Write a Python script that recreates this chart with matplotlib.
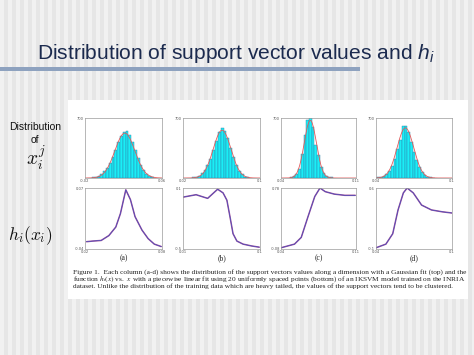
import numpy as np
import matplotlib
matplotlib.use("Agg")
import matplotlib.pyplot as plt

W, H = 474, 355

# ---------------- data ----------------
panels = ["(a)", "(b)", "(c)", "(d)"]

# histogram bin ranges (axis fraction units) and bar heights
hist_a_range = (0.09, 0.89)
hist_a = [0.01, 0.02, 0.04, 0.07, 0.11, 0.17, 0.25, 0.35, 0.47, 0.60, 0.70,
          0.76, 0.78, 0.72, 0.60, 0.47, 0.34, 0.22, 0.13, 0.07, 0.03, 0.01]
hist_b_range = (0.12, 0.86)
hist_b = [0.01, 0.02, 0.04, 0.08, 0.13, 0.21, 0.32, 0.46, 0.62, 0.76, 0.83,
          0.79, 0.66, 0.50, 0.35, 0.22, 0.12, 0.06, 0.025, 0.01]
hist_c_range = (0.12, 0.70)
hist_c = [0.01, 0.03, 0.07, 0.15, 0.40, 0.72, 0.96, 1.0, 0.85, 0.55, 0.38,
          0.18, 0.08, 0.04, 0.02, 0.01]
hist_d_range = (-0.02, 0.77)
hist_d = [0.005, 0.01, 0.02, 0.04, 0.07, 0.12, 0.20, 0.32, 0.48, 0.63, 0.87,
          0.87, 0.76, 0.60, 0.44, 0.30, 0.18, 0.10, 0.05, 0.025, 0.01, 0.005]

# h_i(x_i) curves (axis fraction units)
h_a_x = [0.02, 0.10, 0.21, 0.31, 0.40, 0.46, 0.53, 0.59, 0.65, 0.74, 0.82, 0.90, 0.99]
h_a_y = [0.12, 0.13, 0.14, 0.22, 0.36, 0.58, 0.97, 0.81, 0.53, 0.31, 0.17, 0.08, 0.04]
h_b_x = [0.00, 0.17, 0.32, 0.45, 0.52, 0.57, 0.61, 0.65, 0.70, 0.78, 0.89, 0.99]
h_b_y = [0.85, 0.89, 0.83, 0.98, 0.92, 0.80, 0.53, 0.25, 0.13, 0.08, 0.05, 0.03]
h_c_x = [0.00, 0.18, 0.27, 0.36, 0.45, 0.52, 0.59, 0.71, 0.85, 0.99]
h_c_y = [0.02, 0.08, 0.19, 0.53, 0.86, 1.00, 0.94, 0.90, 0.88, 0.88]
h_d_x = [0.00, 0.13, 0.22, 0.29, 0.36, 0.41, 0.49, 0.60, 0.73, 0.87, 1.00]
h_d_y = [0.02, 0.08, 0.25, 0.64, 0.92, 1.00, 0.92, 0.72, 0.64, 0.61, 0.59]

hists = [(hist_a_range, hist_a), (hist_b_range, hist_b),
         (hist_c_range, hist_c), (hist_d_range, hist_d)]
curves = [(h_a_x, h_a_y), (h_b_x, h_b_y), (h_c_x, h_c_y), (h_d_x, h_d_y)]

# tick labels (corner labels)
top_ylabels = ["700", "700", "700", "700"]
top_xlabels = [("-0.02", "0.06"), ("0.02", "0.1"), ("0.04", "0.11"), ("0.04", "0.1")]
bot_ylabels = [("-0.04", "0.07"), ("-0.5", "0.1"), ("-0.08", "0.78"), ("-0.1", "0.6")]
bot_xlabels = [("0.02", "0.08"), ("0.01", "0.1"), ("0.04", "0.11"), ("0.04", "0.1")]

caption = [
    "Figure 1.  Each column (a-d) shows the distribution of the support vectors values along a dimension with a Gaussian fit (top) and the",
    r"function $h_i(x)$ vs.  $x$ with a piecewise linear fit using 20 uniformly spaced points (bottom) of an IKSVM model trained on the INRIA",
    "dataset. Unlike the distribution of the training data which are heavy tailed, the values of the support vectors tend to be clustered.",
]

# ---------------- figure ----------------
plt.rcParams["mathtext.fontset"] = "custom"
plt.rcParams["mathtext.it"] = "Liberation Sans:italic"
plt.rcParams["mathtext.rm"] = "Liberation Sans"

fig = plt.figure(figsize=(W / 100, H / 100), dpi=100)

def px_axes(x0, y0, x1, y1, **kw):
    return fig.add_axes([x0 / W, 1 - y1 / H, (x1 - x0) / W, (y1 - y0) / H], **kw)

# striped slide background
bg = px_axes(0, 0, W, H)
stripes = np.tile([0, 0, 0, 0, 1, 1, 1, 1], W // 8 + 1)[:W][None, :]
bg.imshow(stripes, cmap=matplotlib.colors.ListedColormap(["#f1f1f1", "#e6e6e6"]),
          aspect="auto", extent=(0, W, H, 0), interpolation="nearest")
bg.set_xlim(0, W)
bg.set_ylim(H, 0)
bg.axis("off")
# white figure panel
bg.add_patch(plt.Rectangle((68, 100), 400, 199, facecolor="white", edgecolor="none"))
# title underline
bg.add_patch(plt.Rectangle((0, 67), 360, 4, facecolor="#8ea2bf", edgecolor="none"))

# title
fig.text(37 / W, 1 - 59 / H, r"Distribution of support vector values and $h_i$",
         fontsize=15.1, color="#1b2a4e", family="Liberation Sans",
         ha="left", va="baseline", math_fontfamily="custom")

# left labels
fig.text(35 / W, 1 - 127 / H, "Distribution", fontsize=7.5, family="Liberation Sans",
         ha="center", va="center", color="#111111")
fig.text(35 / W, 1 - 140 / H, "of", fontsize=7.5, family="Liberation Sans",
         ha="center", va="center", color="#111111")
fig.text(36 / W, 1 - 158 / H, r"$x_i^j$", fontsize=14, ha="center", va="center",
         math_fontfamily="cm", color="#111111")
fig.text(30 / W, 1 - 236 / H, r"$h_i(x_i)$", fontsize=12.5, ha="center", va="center",
         math_fontfamily="cm", color="#111111")

cols = [(85, 162), (183, 260), (281, 356), (376, 452)]
frame_col = "#9a9a9a"
tick_col = "#555555"
tfs = 2.6

def style(ax):
    for s in ax.spines.values():
        s.set_color(frame_col)
        s.set_linewidth(0.5)
    ax.set_xlim(0, 1)
    ax.set_ylim(0, 1)
    ax.tick_params(length=0, labelsize=tfs, colors=tick_col, pad=0.8)
    ax.set_facecolor("white")

for i, (x0, x1) in enumerate(cols):
    # top: histogram with gaussian fit
    ax = px_axes(x0, 118, x1, 178)
    style(ax)
    (lo, hi), vals = hists[i]
    edges = np.linspace(lo, hi, len(vals) + 1)
    centers = (edges[:-1] + edges[1:]) / 2
    ax.bar(centers, vals, width=edges[1] - edges[0], color="#1aeef6",
           edgecolor="#2f7fa8", linewidth=0.3)
    v = np.asarray(vals)
    mu = np.sum(centers * v) / v.sum()
    sd = np.sqrt(np.sum(v * (centers - mu) ** 2) / v.sum())
    xx = np.linspace(0, 1, 300)
    ax.plot(xx, v.max() * 0.96 * np.exp(-0.5 * ((xx - mu) / sd) ** 2),
            color="#e05a5a", lw=0.6)
    ax.set_xticks([0, 1])
    ax.set_xticklabels(top_xlabels[i])
    ax.set_yticks([1])
    ax.set_yticklabels([top_ylabels[i]])

    # bottom: h_i curve
    ax2 = px_axes(x0, 188, x1, 249)
    style(ax2)
    cx, cy = curves[i]
    ax2.plot(cx, cy, color="#a0509a", lw=1.1, solid_capstyle="round")
    ax2.plot(cx, cy, color="#4050c0", lw=0.45)
    ax2.set_xticks([0, 1])
    ax2.set_xticklabels(bot_xlabels[i])
    ax2.set_yticks([0, 1])
    ax2.set_yticklabels(bot_ylabels[i])

    fig.text((x0 + x1) / 2 / W, 1 - 258 / H, panels[i], fontsize=5.5,
             family="Liberation Serif", ha="center", va="center", color="#222222")

for k, line in enumerate(caption):
    fig.text(73 / W, 1 - (272 + 7 * k) / H, line, fontsize=5.3,
             family="Liberation Serif", ha="left", va="center", color="#222222",
             math_fontfamily="stix")

fig.savefig("out.png", dpi=100)
